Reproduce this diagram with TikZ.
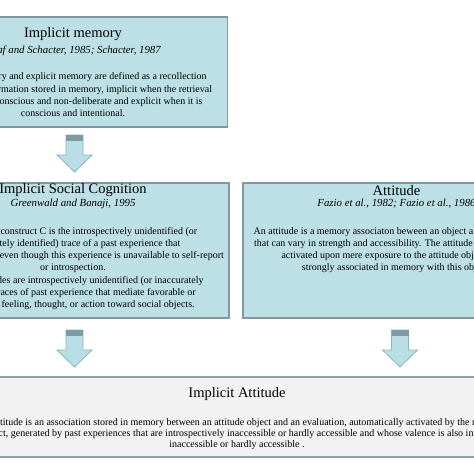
\documentclass[tikz,border=0pt]{standalone}
\usepackage{fontspec}
\setmainfont{Liberation Serif}
\definecolor{boxblue}{RGB}{188,224,230}
\definecolor{boxline}{RGB}{128,152,158}
\definecolor{greyfill}{RGB}{242,242,242}
\definecolor{greyline}{RGB}{140,162,168}
\definecolor{arrowblue}{RGB}{185,222,230}
\definecolor{arrowline}{RGB}{140,180,190}
\definecolor{arrowcap}{RGB}{125,155,162}
\begin{document}
\begin{tikzpicture}[x=1pt,y=-1pt,
    every node/.style={inner sep=0pt},
    bluebox/.style={draw=boxline,line width=1.3pt,fill=boxblue},
    greybox/.style={draw=greyline,line width=1.8pt,fill=greyfill},
    boxtitle/.style={font=\fontsize{14.5}{16}\selectfont},
    boxcite/.style={font=\fontsize{10.8}{12}\selectfont\itshape},
    boxbody/.style={font=\fontsize{10}{12.2}\selectfont,align=center,anchor=north}]
    \useasboundingbox (0,0) rectangle (474,474);
    \fill[white] (0,0) rectangle (474,474);
    \clip (0,0) rectangle (474,474);
    % boxes
    \node[bluebox,minimum width=310pt,minimum height=110pt] (memory) at (72.5,72) {};
    \node[bluebox,minimum width=312pt,minimum height=135pt] (social) at (73,250.5) {};
    \node[bluebox,minimum width=307pt,minimum height=135pt] (attitude) at (396.5,250.5) {};
    \node[greybox,minimum width=494pt,minimum height=80pt] (implicit) at (237,417) {};
    % block arrows
    \foreach \ax/\ay in {74.5/135, 74.5/330, 400/330} {
        \filldraw[fill=arrowblue,draw=arrowline,line width=0.8pt]
            ({\ax-8.5},\ay) -- ({\ax+8.5},\ay) -- ({\ax+8.5},{\ay+20}) -- ({\ax+17.5},{\ay+20})
            -- (\ax,{\ay+37}) -- ({\ax-17.5},{\ay+20}) -- ({\ax-8.5},{\ay+20}) -- cycle;
        \fill[arrowcap] ({\ax-8.5},\ay) rectangle ({\ax+8.5},{\ay+6});
    }
    % texts
    \node[boxtitle] (memtitle) at (73,34) {Implicit memory};
    \node[boxcite] (memcite) at (73,50.5) {Graf and Schacter, 1985; Schacter, 1987};
    \node[boxbody,font=\fontsize{10}{12.3}\selectfont] (membody) at (73,72.5) {Implicit memory and explicit memory are defined as a recollection\\
        of previous information stored in memory, implicit when the retrieval\\
        process is unconscious and non-deliberate and explicit when it is\\
        conscious and intentional.};
    \node[boxtitle] (soctitle) at (73,190) {Implicit Social Cognition};
    \node[boxcite] (soccite) at (73,204) {Greenwald and Banaji, 1995};
    \node[boxbody] (socbody) at (73,227) {The implicit construct C is the introspectively unidentified (or\\
        inaccurately identified) trace of a past experience that\\
        mediates behavior, even though this experience is unavailable to self-report\\
        or introspection.\\
        Implicit attitudes are introspectively unidentified (or inaccurately\\
        identified) traces of past experience that mediate favorable or\\
        unfavorable feeling, thought, or action toward social objects.};
    \node[boxtitle] (atttitle) at (396.5,191) {Attitude};
    \node[boxcite] (attcite) at (396.5,204) {Fazio et al., 1982; Fazio et al., 1986};
    \node[boxbody,font=\fontsize{10}{12}\selectfont] (attbody) at (396.5,227) {An attitude is a memory associaton beween an object and an evaluation\\
        that can vary in strength and accessibility. The attitude is automatically\\
        activated upon mere exposure to the attitude object if it is\\
        strongly associated in memory with this object.};
    \node[boxtitle] (imptitle) at (237,394.5) {Implicit Attitude};
    \node[boxbody,font=\fontsize{10}{11.3}\selectfont] (impbody) at (237,418) {An implicit attitude is an association stored in memory between an attitude object and an evaluation, automatically activated by the mere presence\\
        attitude object, generated by past experiences that are introspectively inaccessible or hardly accessible and whose valence is also introspectively\\
        inaccessible or hardly accessible .};
\end{tikzpicture}
\end{document}
